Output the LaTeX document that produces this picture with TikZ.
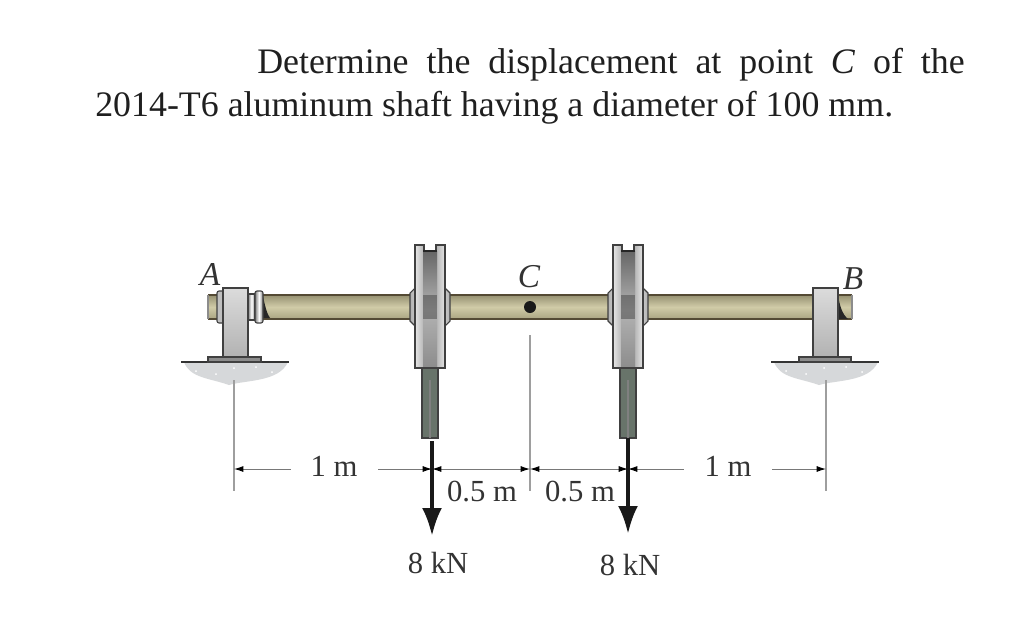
\documentclass[tikz,border=0pt]{standalone}
\usepackage{fontspec}
\setmainfont{Liberation Serif}
\usetikzlibrary{arrows.meta,positioning}

\definecolor{shaftTan}{RGB}{200,194,152}
\definecolor{shaftDark}{RGB}{84,74,52}
\definecolor{groundGrey}{RGB}{214,216,218}
\definecolor{beltGreen}{RGB}{104,116,106}
\definecolor{dimGrey}{RGB}{120,120,120}

\tikzset{
	outline/.style={draw=black!75, line width=0.8pt},
	dimtip/.tip={Latex[length=7pt,width=4.5pt,black]},
	dimline/.style={draw=dimGrey, line width=0.7pt},
	extline/.style={draw=black!38, line width=0.9pt},
	force/.style={draw=black!90, line width=3pt, -{Latex[length=21pt,width=15pt]}},
	lbl/.style={font=\fontsize{23}{26}\selectfont, inner sep=0pt, text=black!80},
	ptlbl/.style={font=\fontsize{25}{28}\selectfont\itshape, inner sep=0pt, text=black!80},
	title/.style={font=\fontsize{26.9}{32}\selectfont, inner sep=0pt, anchor=base west, text=black!88}
}

\begin{document}
\begin{tikzpicture}[x=0.75pt, y=-0.75pt]

	\def\xA{234}
	\def\xPi{430}
	\def\xC{530}
	\def\xPj{628}
	\def\xB{826}
	%
	\def\yDim{469}

	\useasboundingbox (0,0) rectangle (1019,629);

	% title
	\node[title] (lineone) at (257,73) {Determine\hspace{0.25em} the\hspace{0.25em} displacement\hspace{0.25em} at\hspace{0.25em} point\hspace{0.25em} \textit{C}\hspace{0.25em} of\hspace{0.25em} the};
	\node[title] (linetwo) at (95,116) {2014-T6 aluminum shaft having a diameter of 100 mm.};

	% ground
	\foreach \xG in {184, 774}{
		\fill[groundGrey] (\xG,362) .. controls ({\xG+6},378) and ({\xG+25},378) .. ({\xG+45},385)
			.. controls ({\xG+62},380) and ({\xG+95},382) .. ({\xG+104},362) -- cycle;
		\foreach \xD/\yD in {12/371, 32/374, 50/368, 72/367, 88/372}
			\fill[white] ({\xG+\xD},\yD) circle (1);
	}
	\draw[black!80, line width=0.8pt] (181,362) -- (289,362) (771,362) -- (879,362);

	% shaft
	\shade[top color=shaftTan!75!black, bottom color=shaftTan!85!black, middle color=shaftTan!85!white] (208,295) rectangle (852,319);
	\draw[shaftDark, line width=1.3pt] (208,295) -- (852,295) (208,319) -- (852,319);
	\draw[black!45, line width=0.8pt] (208,295) -- (208,319) (852,295) -- (852,319);
	\fill[black!85] (263,296) .. controls (265,306) and (267,314) .. (270,318) -- (263,318) -- cycle;
	\fill[black!85] (838,296) .. controls (840,306) and (842,314) .. (848,319) -- (838,319) -- cycle;

	% pulleys
	\foreach \xP in {\xPi, \xPj}{
		\shade[outline, left color=black!30, right color=black!30, middle color=white] ({\xP-20},293) -- ({\xP-16},289) -- ({\xP+16},289) -- ({\xP+20},293) -- ({\xP+20},321) -- ({\xP+16},325) -- ({\xP-16},325) -- ({\xP-20},321) -- cycle;
		\shade[outline, left color=black!10, right color=black!30] ({\xP-15},245) rectangle ({\xP-6},368);
		\shade[outline, left color=black!30, right color=black!10] ({\xP+6},245) rectangle ({\xP+15},368);
		\shade[top color=black!60, bottom color=black!45, middle color=black!30] ({\xP-7},251) rectangle ({\xP+7},368);
		\draw[black!85, line width=0.9pt] ({\xP-7},251) -- ({\xP+7},251);
		\fill[black!70, opacity=0.55] ({\xP-7},295) rectangle ({\xP+7},319);
		\draw[outline, fill=beltGreen] ({\xP-8},368) rectangle ({\xP+8},438);
		\draw[black!50, line width=0.8pt] (\xP,380) -- (\xP,438);
	}

	% bearing A
	\draw[outline, fill=black!25, rounded corners=1.5pt] (217,291) rectangle (224,323);
	\shade[outline, left color=black!50, right color=black!50, middle color=white] (248,294) rectangle (255,320);
	\shade[outline, left color=black!50, right color=black!50, middle color=white, rounded corners=1.5pt] (255,291) rectangle (263,323);
	\shade[outline, top color=black!14, bottom color=black!30] (223,288) rectangle (248,357);
	\draw[outline, fill=black!45] (208,357) rectangle (261,362);

	% bearing B
	\shade[outline, top color=black!14, bottom color=black!30] (813,288) rectangle (838,357);
	\draw[outline, fill=black!45] (799,357) rectangle (851,362);

	% point C
	\node[circle, fill=black!90, minimum size=9pt, inner sep=0pt] (ptC) at (\xC,307) {};
	\node[ptlbl] (labC) at (529,277) {C};
	\node[ptlbl] (labA) at (210,274) {A};
	\node[ptlbl] (labB) at (853,279) {B};

	% extension lines
	\coordinate (extAtop) at (\xA,380);
	\coordinate (extAbot) at (\xA,491);
	\coordinate (extCtop) at (\xC,335);
	\coordinate (extCbot) at (\xC,491);
	\coordinate (extBtop) at (\xB,380);
	\coordinate (extBbot) at (\xB,491);
	\draw[extline] (extAtop) -- (extAbot);
	\draw[extline] (extCtop) -- (extCbot);
	\draw[extline] (extBtop) -- (extBbot);

	% dimensions
	\node[lbl] (dimAone) at (334,466) {1 m};
	\node[lbl] (dimBone) at (728,466) {1 m};
	\node[lbl] (dimCi) at (482,492) {0.5 m};
	\node[lbl] (dimCj) at (580,492) {0.5 m};

	\coordinate (dimA) at (\xA,\yDim);
	\coordinate (dimPi) at (432,\yDim);
	\coordinate (dimC) at (\xC,\yDim);
	\coordinate (dimPj) at (\xPj,\yDim);
	\coordinate (dimB) at (\xB,\yDim);
	\coordinate (gapAl) at (291,\yDim);
	\coordinate (gapAr) at (378,\yDim);
	\coordinate (gapBl) at (684,\yDim);
	\coordinate (gapBr) at (772,\yDim);

	\draw[dimline, dimtip-] (dimA) -- (gapAl);
	\draw[dimline, -dimtip] (gapAr) -- (dimPi);
	\draw[dimline, dimtip-dimtip] (dimPi) -- (dimC);
	\draw[dimline, dimtip-dimtip] (dimC) -- (dimPj);
	\draw[dimline, dimtip-] (dimPj) -- (gapBl);
	\draw[dimline, -dimtip] (gapBr) -- (dimB);

	% forces
	\coordinate (loadi) at (432,441);
	\coordinate (loadiend) at (432,536);
	\coordinate (loadj) at (\xPj,438);
	\coordinate (loadjend) at (\xPj,534);
	\draw[force] (loadi) -- (loadiend);
	\draw[force] (loadj) -- (loadjend);

	\node[lbl] (forcei) at (438,563) {8 kN};
	\node[lbl] (forcej) at (630,565) {8 kN};

\end{tikzpicture}
\end{document}
